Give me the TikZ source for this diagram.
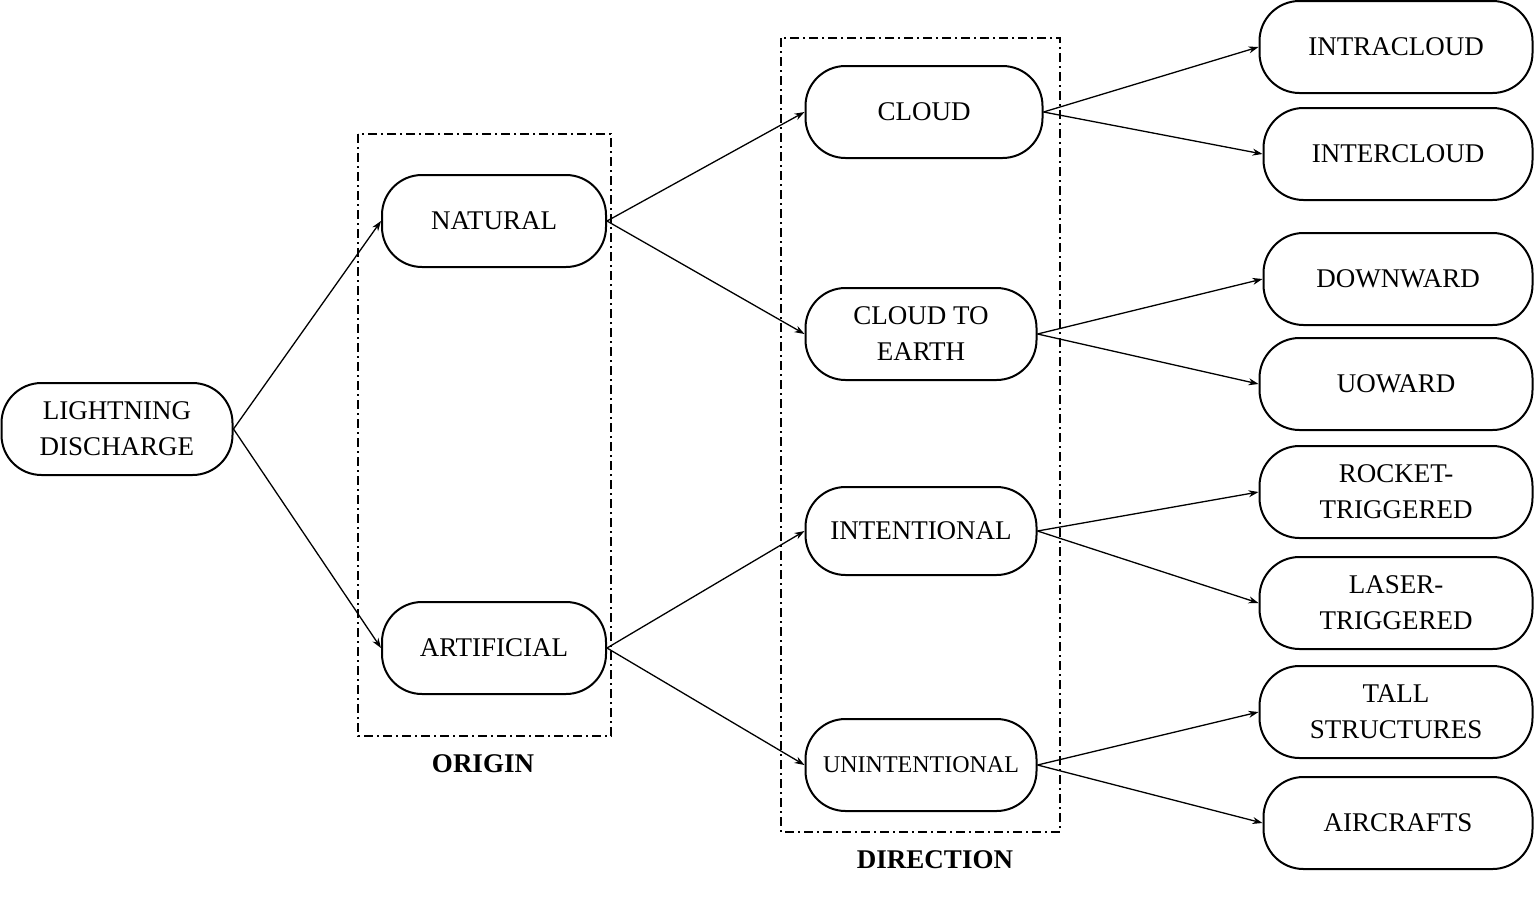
\documentclass[tikz,border=0pt]{standalone}
\usepackage{fontspec}
\setmainfont{Liberation Serif}
\usetikzlibrary{arrows.meta}
\begin{document}
\begin{tikzpicture}[x=1pt,y=-1pt,
 box/.style={draw,line width=2pt,rounded corners=40pt,minimum height=92pt,align=center,inner sep=0pt,font=\fontsize{27}{36}\selectfont},
 arr/.style={-{Stealth[length=10pt,width=7pt]},line width=1.3pt},
 grp/.style={draw,line width=1.6pt,dash pattern=on 9pt off 4pt on 2pt off 4pt},
 lab/.style={font=\fontsize{27}{32}\selectfont\bfseries}]
\useasboundingbox (0,0) rectangle (1536,897);
\draw[grp] (358,134) rectangle (611,736);
\draw[grp] (781,38) rectangle (1060,832);
\node[lab] (lo) at (483,764) {ORIGIN};
\node[lab] (ld) at (935,860) {DIRECTION};
\node[box,minimum width=231pt] (ld0) at (117,429) {LIGHTNING\\DISCHARGE};
\node[box,minimum width=224pt] (nat) at (494,221) {NATURAL};
\node[box,minimum width=224pt] (art) at (494,648) {ARTIFICIAL};
\node[box,minimum width=237pt] (cl) at (924,112) {CLOUD};
\node[box,minimum width=231pt] (ce) at (921,334) {CLOUD TO\\EARTH};
\node[box,minimum width=231pt,minimum height=88pt] (in) at (921,531) {INTENTIONAL};
\node[box,minimum width=231pt] (un) at (921,765) {\fontsize{24}{30}\selectfont UNINTENTIONAL};
\node[box,minimum width=273pt] (r1) at (1396,47) {INTRACLOUD};
\node[box,minimum width=269pt] (r2) at (1398,154) {INTERCLOUD};
\node[box,minimum width=269pt] (r3) at (1398,279) {DOWNWARD};
\node[box,minimum width=273pt] (r4) at (1396,384) {UOWARD};
\node[box,minimum width=273pt] (r5) at (1396,492) {ROCKET-\\TRIGGERED};
\node[box,minimum width=273pt] (r6) at (1396,603) {LASER-\\TRIGGERED};
\node[box,minimum width=273pt] (r7) at (1396,712) {TALL\\STRUCTURES};
\node[box,minimum width=269pt] (r8) at (1398,823) {AIRCRAFTS};
\draw[arr] (ld0.east) -- (nat.west);
\draw[arr] (ld0.east) -- (art.west);
\draw[arr] (nat.east) -- (cl.west);
\draw[arr] (nat.east) -- (ce.west);
\draw[arr] (art.east) -- (in.west);
\draw[arr] (art.east) -- (un.west);
\draw[arr] (cl.east) -- (r1.west);
\draw[arr] (cl.east) -- (r2.west);
\draw[arr] (ce.east) -- (r3.west);
\draw[arr] (ce.east) -- (r4.west);
\draw[arr] (in.east) -- (r5.west);
\draw[arr] (in.east) -- (r6.west);
\draw[arr] (un.east) -- (r7.west);
\draw[arr] (un.east) -- (r8.west);
\end{tikzpicture}
\end{document}
